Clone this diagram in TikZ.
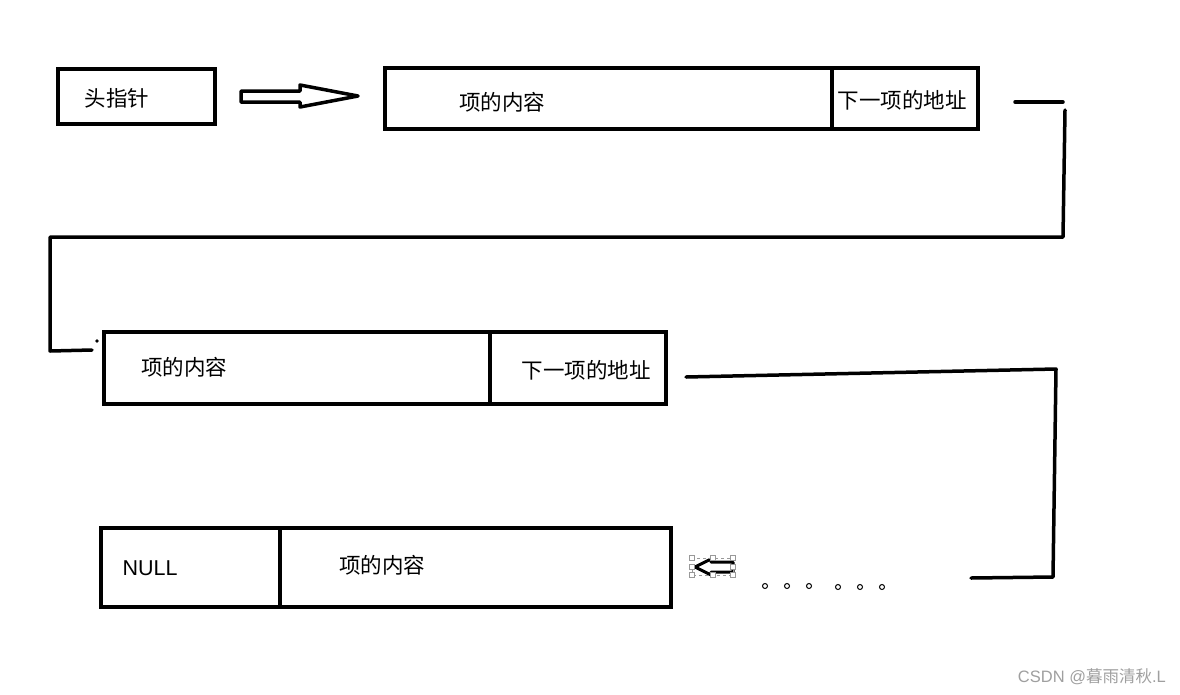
\documentclass[tikz,border=0pt]{standalone}
\usepackage{fontspec}
\setmainfont{Noto Sans CJK SC}
\newfontfamily\latinf{Liberation Sans}
\begin{document}
\begin{tikzpicture}[x=1pt,y=-1pt,
  box/.style={draw=black,line width=4pt,inner sep=0pt},
  wire/.style={draw=black,line width=3.5pt,line cap=round,line join=round},
  lbl/.style={font=\fontsize{21.5}{23}\selectfont,inner sep=0pt,anchor=center},
  dotc/.style={draw=black,line width=1pt,inner sep=0pt,minimum size=5pt,circle},
  handle/.style={draw=gray!80,fill=white,line width=0.6pt,minimum size=5pt,inner sep=0pt,rectangle}]
\useasboundingbox (0,0) rectangle (1180,694);
% head pointer
\draw[box] (58,69) rectangle (215,124);
\node[lbl] (head) at (117,98) {头指针};
% hollow arrow
\draw[line width=3.5pt,line join=round] (241,91) -- (300,91) -- (300,85) -- (358,96) -- (300,107) -- (300,102) -- (241,102) -- cycle;
% box 1
\draw[box] (385,68) rectangle (978,129);
\draw[box] (832,68) -- (832,129);
\node[lbl] (c1) at (502,102) {项的内容};
\node[lbl] (a1) at (902,100) {下一项的地址};
% link 1
\coordinate (p1) at (1015,102);
\coordinate (p2) at (1063,102);
\coordinate (p3) at (1065,110);
\coordinate (p4) at (1063,237);
\coordinate (p5) at (50,237);
\coordinate (p6) at (50,351);
\coordinate (p7) at (92,350);
\draw[wire] (p1) -- (p2);
\draw[wire] (p3) -- (p4) -- (p5) -- (p6) -- (p7);
\fill (97,341) circle (1.8pt);
% box 2
\draw[box] (104,332) rectangle (666,404);
\draw[box] (490,332) -- (490,404);
\node[lbl] (c2) at (184,367) {项的内容};
\node[lbl] (a2) at (586,370) {下一项的地址};
% link 2
\coordinate (q1) at (686,377);
\coordinate (q2) at (1056,369);
\coordinate (q3) at (1053,577);
\coordinate (q4) at (971,578);
\draw[wire] (q1) -- (q2) -- (q3) -- (q4);
% box 3
\draw[box] (101,528) rectangle (671,607);
\draw[box] (280,528) -- (280,607);
\node[lbl,font=\latinf\fontsize{21.5}{23}\selectfont] (n3) at (150,568) {NULL};
\node[lbl] (c3) at (382,565) {项的内容};
% small left arrow with selection handles
\draw[line width=3pt,line join=round] (695,567) -- (711,559) -- (711,562) -- (733,562) -- (733,572) -- (711,572) -- (711,575) -- cycle;
\draw[gray!80,dashed,line width=0.6pt] (692,558) rectangle (733,575);
\foreach \hx/\hy in {692/558,713/558,733/558,692/567,733/567,692/575,713/575,733/575}
  \node[handle] at (\hx,\hy) {};
% dots
\foreach \dx/\dy in {765/586,787/586,809/586,838/587,860/587,882/587}
  \node[dotc] at (\dx,\dy) {};
% watermark
\node[font=\fontsize{16.5}{18}\selectfont,text=gray!75,anchor=east,inner sep=0pt] (wm) at (1166,677) {{\latinf CSDN @}暮雨清秋{\latinf .L}};
\end{tikzpicture}
\end{document}
